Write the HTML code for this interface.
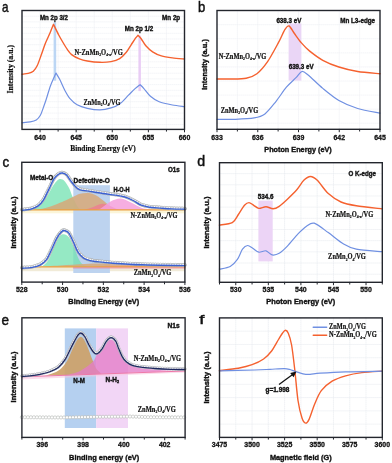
<!DOCTYPE html><html><head><meta charset="utf-8"><style>html,body{margin:0;padding:0;background:#fff;overflow:hidden}svg{display:block;will-change:transform}</style></head><body><svg width="392" height="463" viewBox="0 0 392 463">
<text x="1.90" y="12.20" font-size="13.90" font-family="Liberation Sans" fill="#111" stroke="#111" stroke-width="0.45" textLength="6.50" lengthAdjust="spacingAndGlyphs" >a</text>
<path d="M40.06 10.50 V129.40 M58.11 10.50 V129.40 M76.17 10.50 V129.40 M94.22 10.50 V129.40 M112.28 10.50 V129.40 M130.33 10.50 V129.40 M148.39 10.50 V129.40 M166.44 10.50 V129.40 M22.00 16.20 H184.50 M22.00 21.90 H184.50 M22.00 27.60 H184.50 M22.00 33.30 H184.50 M22.00 39.00 H184.50 M22.00 44.70 H184.50 M22.00 50.40 H184.50 M22.00 56.10 H184.50 M22.00 61.80 H184.50 M22.00 67.50 H184.50 M22.00 73.20 H184.50 M22.00 78.90 H184.50 M22.00 84.60 H184.50 M22.00 90.30 H184.50 M22.00 96.00 H184.50 M22.00 101.70 H184.50 M22.00 107.40 H184.50 M22.00 113.10 H184.50 M22.00 118.80 H184.50 M22.00 124.50 H184.50" stroke="#eceef3" stroke-width="0.60" fill="none" stroke-linejoin="round" stroke-linecap="round" stroke-dasharray="0.9 1.1" stroke-linecap="butt"/>
<rect x="53.60" y="22.30" width="2.60" height="58.40" fill="#bcd6f4" />
<rect x="138.40" y="35.50" width="2.50" height="55.60" fill="#e9cdf5" />
<path d="M22.00 74.20 C22.93 74.08 26.50 73.85 28.20 73.40 C29.89 72.95 31.93 72.39 33.30 71.20 C34.66 70.02 36.08 68.00 37.30 65.50 C38.52 62.99 40.17 57.88 41.40 54.50 C42.63 51.12 44.21 46.23 45.50 43.00 C46.79 39.77 48.80 35.80 50.00 33.00 C51.20 30.20 52.98 25.61 53.50 24.30 C54.27 25.86 57.18 31.97 58.60 34.70 C60.02 37.43 61.70 40.30 63.00 42.50 C64.30 44.70 66.01 47.59 67.30 49.40 C68.59 51.21 69.78 53.18 71.60 54.60 C73.41 56.02 77.05 57.94 79.40 58.90 C81.76 59.86 84.21 60.49 87.30 61.00 C90.39 61.51 96.44 62.21 100.00 62.30 C103.56 62.39 108.05 62.16 111.00 61.60 C113.95 61.05 117.41 60.00 119.70 58.60 C122.00 57.20 124.56 54.40 126.30 52.30 C128.04 50.20 129.92 46.72 131.30 44.60 C132.68 42.48 134.50 39.60 135.50 38.20 C136.50 36.80 137.62 35.73 138.00 35.30 C138.45 35.78 139.86 36.97 141.00 38.50 C142.14 40.03 143.86 43.51 145.60 45.50 C147.34 47.49 150.23 50.24 152.60 51.80 C154.97 53.36 158.43 54.98 161.40 55.90 C164.37 56.81 168.94 57.43 172.40 57.90 C175.87 58.37 182.69 58.84 184.50 59.00" stroke="#f5612f" stroke-width="1.40" fill="none" stroke-linejoin="round" stroke-linecap="round" />
<path d="M22.00 122.80 C23.23 122.66 28.05 122.34 30.20 121.90 C32.34 121.47 34.77 120.89 36.30 119.90 C37.83 118.91 39.32 117.22 40.40 115.30 C41.48 113.38 42.66 109.39 43.50 107.10 C44.34 104.80 44.94 103.24 46.00 100.00 C47.06 96.76 49.10 89.53 50.60 85.50 C52.10 81.47 55.19 74.96 56.00 73.10 C56.57 74.07 58.46 76.99 59.80 79.60 C61.13 82.21 63.37 87.64 64.90 90.50 C66.43 93.36 68.17 96.56 70.00 98.70 C71.83 100.84 74.50 103.36 77.10 104.80 C79.69 106.24 83.86 107.53 87.30 108.30 C90.73 109.06 96.44 109.96 100.00 109.90 C103.56 109.84 108.05 108.79 111.00 107.90 C113.95 107.02 117.08 105.91 119.70 104.00 C122.33 102.09 126.19 97.51 128.50 95.20 C130.81 92.89 133.36 90.19 135.10 88.60 C136.84 87.01 139.35 85.20 140.10 84.60 C140.67 85.20 142.36 86.84 143.90 88.60 C145.44 90.35 148.11 94.32 150.40 96.30 C152.69 98.28 155.90 100.49 159.20 101.80 C162.50 103.11 168.61 104.28 172.40 105.00 C176.19 105.72 182.69 106.36 184.50 106.60" stroke="#7090e2" stroke-width="1.20" fill="none" stroke-linejoin="round" stroke-linecap="round" />
<text x="40.00" y="19.60" font-size="6.80" font-family="Liberation Sans" font-weight="bold" fill="#111" stroke="#111" stroke-width="0.38" textLength="28.00" lengthAdjust="spacingAndGlyphs" >Mn 2p 3/2</text>
<text x="124.80" y="30.80" font-size="6.80" font-family="Liberation Sans" font-weight="bold" fill="#111" stroke="#111" stroke-width="0.38" textLength="28.40" lengthAdjust="spacingAndGlyphs" >Mn 2p 1/2</text>
<text x="162.10" y="20.10" font-size="6.80" font-family="Liberation Sans" font-weight="bold" fill="#111" stroke="#111" stroke-width="0.38" textLength="18.10" lengthAdjust="spacingAndGlyphs" >Mn 2p</text>
<text x="74.60" y="54.90" font-size="7.30" font-family="Liberation Serif" font-weight="bold" fill="#111" stroke="#111" stroke-width="0.20" textLength="48.20" lengthAdjust="spacingAndGlyphs" >N-ZnMn<tspan font-size="58%" dy="1.30">2</tspan><tspan dy="-1.3">O</tspan><tspan font-size="58%" dy="1.30">4-x</tspan><tspan dy="-1.3">/VG</tspan></text>
<text x="83.50" y="104.90" font-size="7.30" font-family="Liberation Serif" font-weight="bold" fill="#111" stroke="#111" stroke-width="0.20" textLength="37.00" lengthAdjust="spacingAndGlyphs" >ZnMn<tspan font-size="58%" dy="1.30">2</tspan><tspan dy="-1.3">O</tspan><tspan font-size="58%" dy="1.30">4</tspan><tspan dy="-1.3">/VG</tspan></text>
<path d="M40.06 129.40 V131.90 M76.17 129.40 V131.90 M112.28 129.40 V131.90 M148.39 129.40 V131.90 M184.50 129.40 V131.90 M58.11 129.40 V131.20 M94.22 129.40 V131.20 M130.33 129.40 V131.20 M166.44 129.40 V131.20" stroke="#23262d" stroke-width="1.00" fill="none" stroke-linejoin="round" stroke-linecap="round" stroke-linecap="butt"/>
<text x="40.06" y="139.60" font-size="6.95" text-anchor="middle" font-family="Liberation Sans" font-weight="bold" fill="#111" stroke="#111" stroke-width="0.28">640</text>
<text x="76.17" y="139.60" font-size="6.95" text-anchor="middle" font-family="Liberation Sans" font-weight="bold" fill="#111" stroke="#111" stroke-width="0.28">645</text>
<text x="112.28" y="139.60" font-size="6.95" text-anchor="middle" font-family="Liberation Sans" font-weight="bold" fill="#111" stroke="#111" stroke-width="0.28">650</text>
<text x="148.39" y="139.60" font-size="6.95" text-anchor="middle" font-family="Liberation Sans" font-weight="bold" fill="#111" stroke="#111" stroke-width="0.28">655</text>
<text x="184.50" y="139.60" font-size="6.95" text-anchor="middle" font-family="Liberation Sans" font-weight="bold" fill="#111" stroke="#111" stroke-width="0.28">660</text>
<text x="70.20" y="151.30" font-size="7.80" font-family="Liberation Serif" font-weight="bold" fill="#111" stroke="#111" stroke-width="0.20" textLength="65.50" lengthAdjust="spacingAndGlyphs" >Binding Energy (eV)</text>
<text transform="translate(12.50 93.60) rotate(-90)" x="0" y="0" font-size="7.80" font-family="Liberation Serif" font-weight="bold" fill="#111" stroke="#111" stroke-width="0.20" textLength="48.60" lengthAdjust="spacingAndGlyphs">Intensity (a.u.)</text>
<rect x="22.00" y="10.50" width="162.50" height="118.90" fill="none" stroke="#23262d" stroke-width="1.40"/>
<text x="198.00" y="11.80" font-size="13.90" font-family="Liberation Sans" fill="#111" stroke="#111" stroke-width="0.45" textLength="7.30" lengthAdjust="spacingAndGlyphs" >b</text>
<path d="M237.38 10.50 V129.30 M257.75 10.50 V129.30 M278.12 10.50 V129.30 M298.50 10.50 V129.30 M318.88 10.50 V129.30 M339.25 10.50 V129.30 M359.62 10.50 V129.30 M217.00 24.70 H380.00 M217.00 38.78 H380.00 M217.00 52.86 H380.00 M217.00 66.94 H380.00 M217.00 81.02 H380.00 M217.00 95.10 H380.00 M217.00 109.18 H380.00 M217.00 123.26 H380.00" stroke="#eceef3" stroke-width="0.60" fill="none" stroke-linejoin="round" stroke-linecap="round" stroke-dasharray="0.9 1.1" stroke-linecap="butt"/>
<rect x="288.60" y="23.40" width="12.80" height="57.20" fill="#ead6f6" />
<path d="M217.00 79.00 C218.97 79.00 225.72 79.12 230.10 79.00 C234.48 78.88 242.18 79.00 246.20 78.20 C250.22 77.41 253.69 76.19 256.90 73.70 C260.11 71.21 264.39 66.22 267.60 61.60 C270.81 56.98 275.69 47.73 278.30 42.90 C280.91 38.07 283.38 31.93 285.00 29.40 C286.62 26.86 287.69 25.38 289.10 26.00 C290.51 26.62 292.56 30.96 294.40 33.50 C296.24 36.03 299.15 40.29 301.40 42.90 C303.65 45.51 306.19 48.29 309.40 50.90 C312.61 53.51 318.38 57.88 322.80 60.30 C327.23 62.71 333.66 65.32 338.90 67.00 C344.13 68.68 351.53 70.48 357.70 71.50 C363.87 72.52 376.65 73.45 380.00 73.80" stroke="#f5612f" stroke-width="1.40" fill="none" stroke-linejoin="round" stroke-linecap="round" />
<path d="M217.00 119.30 C219.76 119.30 229.82 119.51 235.40 119.30 C240.98 119.09 249.78 118.71 254.20 117.90 C258.62 117.09 261.67 116.32 264.90 113.90 C268.12 111.48 272.47 105.80 275.70 101.80 C278.93 97.80 283.35 90.81 286.40 87.20 C289.44 83.59 293.68 80.06 296.00 77.70 C298.32 75.34 300.08 71.91 301.90 71.50 C303.71 71.09 304.97 72.47 308.10 75.00 C311.24 77.53 318.18 84.58 322.80 88.40 C327.42 92.23 333.66 97.48 338.90 100.50 C344.13 103.52 351.53 106.59 357.70 108.50 C363.87 110.41 376.65 112.50 380.00 113.20" stroke="#7090e2" stroke-width="1.20" fill="none" stroke-linejoin="round" stroke-linecap="round" />
<text x="276.40" y="22.60" font-size="6.80" font-family="Liberation Sans" font-weight="bold" fill="#111" stroke="#111" stroke-width="0.38" textLength="25.00" lengthAdjust="spacingAndGlyphs" >638.3 eV</text>
<text x="288.70" y="68.80" font-size="6.80" font-family="Liberation Sans" font-weight="bold" fill="#111" stroke="#111" stroke-width="0.38" textLength="24.90" lengthAdjust="spacingAndGlyphs" >639.3 eV</text>
<text x="340.20" y="22.50" font-size="6.80" font-family="Liberation Sans" font-weight="bold" fill="#111" stroke="#111" stroke-width="0.38" textLength="34.90" lengthAdjust="spacingAndGlyphs" >Mn L3-edge</text>
<text x="218.80" y="58.70" font-size="7.30" font-family="Liberation Serif" font-weight="bold" fill="#111" stroke="#111" stroke-width="0.20" textLength="47.50" lengthAdjust="spacingAndGlyphs" >N-ZnMn<tspan font-size="58%" dy="1.30">2</tspan><tspan dy="-1.3">O</tspan><tspan font-size="58%" dy="1.30">4-x</tspan><tspan dy="-1.3">/VG</tspan></text>
<text x="220.70" y="113.10" font-size="7.30" font-family="Liberation Serif" font-weight="bold" fill="#111" stroke="#111" stroke-width="0.20" textLength="37.50" lengthAdjust="spacingAndGlyphs" >ZnMn<tspan font-size="58%" dy="1.30">2</tspan><tspan dy="-1.3">O</tspan><tspan font-size="58%" dy="1.30">4</tspan><tspan dy="-1.3">/VG</tspan></text>
<path d="M217.00 129.30 V131.80 M257.75 129.30 V131.80 M298.50 129.30 V131.80 M339.25 129.30 V131.80 M380.00 129.30 V131.80 M237.38 129.30 V131.10 M278.12 129.30 V131.10 M318.88 129.30 V131.10 M359.62 129.30 V131.10" stroke="#23262d" stroke-width="1.00" fill="none" stroke-linejoin="round" stroke-linecap="round" stroke-linecap="butt"/>
<text x="217.00" y="139.60" font-size="6.95" text-anchor="middle" font-family="Liberation Sans" font-weight="bold" fill="#111" stroke="#111" stroke-width="0.28">633</text>
<text x="257.75" y="139.60" font-size="6.95" text-anchor="middle" font-family="Liberation Sans" font-weight="bold" fill="#111" stroke="#111" stroke-width="0.28">636</text>
<text x="298.50" y="139.60" font-size="6.95" text-anchor="middle" font-family="Liberation Sans" font-weight="bold" fill="#111" stroke="#111" stroke-width="0.28">639</text>
<text x="339.25" y="139.60" font-size="6.95" text-anchor="middle" font-family="Liberation Sans" font-weight="bold" fill="#111" stroke="#111" stroke-width="0.28">642</text>
<text x="380.00" y="139.60" font-size="6.95" text-anchor="middle" font-family="Liberation Sans" font-weight="bold" fill="#111" stroke="#111" stroke-width="0.28">645</text>
<text x="264.30" y="151.50" font-size="7.80" font-family="Liberation Sans" font-weight="bold" fill="#111" stroke="#111" stroke-width="0.38" textLength="67.40" lengthAdjust="spacingAndGlyphs" >Photon Energy (eV)</text>
<text transform="translate(207.30 89.80) rotate(-90)" x="0" y="0" font-size="7.80" font-family="Liberation Sans" font-weight="bold" fill="#111" stroke="#111" stroke-width="0.38" textLength="50.70" lengthAdjust="spacingAndGlyphs">Intensity (a.u.)</text>
<rect x="217.00" y="10.50" width="163.00" height="118.80" fill="none" stroke="#23262d" stroke-width="1.40"/>
<text x="2.40" y="166.60" font-size="13.90" font-family="Liberation Sans" fill="#111" stroke="#111" stroke-width="0.45" textLength="6.70" lengthAdjust="spacingAndGlyphs" >c</text>
<rect x="21.80" y="209.90" width="163.10" height="3.40" fill="#fbf5d8" />
<rect x="21.80" y="266.80" width="163.10" height="4.40" fill="#f1ebd8" />
<rect x="73.30" y="185.20" width="36.60" height="87.80" fill="#bdd3ef" />
<path d="M30.90 209.80 C32.40 209.08 37.22 207.70 39.90 205.50 C42.58 203.30 44.92 199.72 47.00 196.60 C49.08 193.48 50.77 189.42 52.40 186.80 C54.03 184.18 55.47 182.18 56.80 180.90 C58.13 179.62 59.05 179.02 60.40 179.10 C61.75 179.18 63.42 179.83 64.90 181.40 C66.38 182.97 67.97 185.82 69.30 188.50 C70.63 191.18 71.55 194.52 72.90 197.50 C74.25 200.48 76.07 204.32 77.40 206.40 C78.73 208.48 80.32 209.40 80.90 210.00 L80.90 209.90 L30.90 209.90 Z" fill="#72e2b0" fill-opacity="0.75" />
<path d="M36.30 210.00 C38.08 209.58 43.43 208.55 47.00 207.50 C50.57 206.45 54.53 204.92 57.70 203.70 C60.87 202.48 63.32 201.38 66.00 200.20 C68.68 199.02 71.47 197.67 73.80 196.60 C76.13 195.53 77.60 194.40 80.00 193.80 C82.40 193.20 85.48 192.73 88.20 193.00 C90.92 193.27 93.58 193.98 96.30 195.40 C99.02 196.82 102.12 199.63 104.50 201.50 C106.88 203.37 108.57 205.23 110.60 206.60 C112.63 207.97 115.13 209.13 116.70 209.70 C118.27 210.27 119.45 209.95 120.00 210.00 L120.00 209.90 L36.30 209.90 Z" fill="#d8a878" fill-opacity="0.85" />
<path d="M84.00 210.00 C85.33 209.58 88.93 208.53 92.00 207.50 C95.07 206.47 99.40 204.05 102.40 203.80 C105.40 203.55 107.40 205.05 110.00 206.00 C112.60 206.95 116.00 208.83 118.00 209.50 C120.00 210.17 121.33 209.92 122.00 210.00 L122.00 209.90 L84.00 209.90 Z" fill="#f07890" fill-opacity="0.75" />
<path d="M96.00 210.00 C96.73 209.78 97.97 210.12 100.40 208.70 C102.83 207.28 107.20 203.20 110.60 201.50 C114.00 199.80 117.40 198.32 120.80 198.50 C124.20 198.68 127.60 201.07 131.00 202.60 C134.40 204.13 138.13 206.58 141.20 207.70 C144.27 208.82 146.93 208.92 149.40 209.30 C151.87 209.68 154.90 209.88 156.00 210.00 L156.00 209.90 L96.00 209.90 Z" fill="#f4a0dc" fill-opacity="0.85" />
<path d="M21.9 209.9 H185.1" stroke="#eba040" stroke-width="1.10" fill="none" stroke-linejoin="round" stroke-linecap="round" />
<path d="M22.00 209.70 C23.48 209.50 28.22 209.23 30.90 208.50 C33.58 207.77 36.02 206.80 38.10 205.30 C40.18 203.80 41.62 202.25 43.40 199.50 C45.18 196.75 47.02 192.37 48.80 188.80 C50.58 185.23 52.47 180.62 54.10 178.10 C55.73 175.58 57.25 174.65 58.60 173.70 C59.95 172.75 60.87 172.27 62.20 172.40 C63.53 172.53 65.12 173.10 66.60 174.50 C68.08 175.90 69.60 178.85 71.10 180.80 C72.60 182.75 74.12 184.80 75.60 186.20 C77.08 187.60 77.57 188.43 80.00 189.20 C82.43 189.97 86.80 190.27 90.20 190.80 C93.60 191.33 97.20 191.90 100.40 192.40 C103.60 192.90 106.63 193.40 109.40 193.80 C112.17 194.20 114.40 194.37 117.00 194.80 C119.60 195.23 122.32 195.55 125.00 196.40 C127.68 197.25 130.40 198.53 133.10 199.90 C135.80 201.27 138.48 203.48 141.20 204.60 C143.92 205.72 146.27 206.12 149.40 206.60 C152.53 207.08 156.23 207.22 160.00 207.50 C163.77 207.78 167.82 208.12 172.00 208.30 C176.18 208.48 182.92 208.55 185.10 208.60" stroke="#b0b2b4" stroke-width="3.40" fill="none" stroke-linejoin="round" stroke-linecap="round" />
<path d="M22.00 209.70 C23.48 209.50 28.22 209.23 30.90 208.50 C33.58 207.77 36.02 206.80 38.10 205.30 C40.18 203.80 41.62 202.25 43.40 199.50 C45.18 196.75 47.02 192.37 48.80 188.80 C50.58 185.23 52.47 180.62 54.10 178.10 C55.73 175.58 57.25 174.65 58.60 173.70 C59.95 172.75 60.87 172.27 62.20 172.40 C63.53 172.53 65.12 173.10 66.60 174.50 C68.08 175.90 69.60 178.85 71.10 180.80 C72.60 182.75 74.12 184.80 75.60 186.20 C77.08 187.60 77.57 188.43 80.00 189.20 C82.43 189.97 86.80 190.27 90.20 190.80 C93.60 191.33 97.20 191.90 100.40 192.40 C103.60 192.90 106.63 193.40 109.40 193.80 C112.17 194.20 114.40 194.37 117.00 194.80 C119.60 195.23 122.32 195.55 125.00 196.40 C127.68 197.25 130.40 198.53 133.10 199.90 C135.80 201.27 138.48 203.48 141.20 204.60 C143.92 205.72 146.27 206.12 149.40 206.60 C152.53 207.08 156.23 207.22 160.00 207.50 C163.77 207.78 167.82 208.12 172.00 208.30 C176.18 208.48 182.92 208.55 185.10 208.60" stroke="#ffffff" stroke-width="1.70" fill="none" stroke-linejoin="round" stroke-linecap="round" />
<g fill="#fff" stroke="#a6a8aa" stroke-width="0.55"><circle cx="22.00" cy="209.70" r="1.45"/><circle cx="24.62" cy="209.35" r="1.45"/><circle cx="27.24" cy="208.99" r="1.45"/><circle cx="29.85" cy="208.64" r="1.45"/><circle cx="32.34" cy="207.86" r="1.45"/><circle cx="34.74" cy="206.79" r="1.45"/><circle cx="37.14" cy="205.73" r="1.45"/><circle cx="39.16" cy="204.14" r="1.45"/><circle cx="40.93" cy="202.21" r="1.45"/><circle cx="42.69" cy="200.27" r="1.45"/><circle cx="44.10" cy="198.10" r="1.45"/><circle cx="45.28" cy="195.78" r="1.45"/><circle cx="46.45" cy="193.45" r="1.45"/><circle cx="47.63" cy="191.13" r="1.45"/><circle cx="48.80" cy="188.80" r="1.45"/><circle cx="49.95" cy="186.47" r="1.45"/><circle cx="51.10" cy="184.15" r="1.45"/><circle cx="52.26" cy="181.82" r="1.45"/><circle cx="53.41" cy="179.50" r="1.45"/><circle cx="54.85" cy="177.37" r="1.45"/><circle cx="56.73" cy="175.53" r="1.45"/><circle cx="58.60" cy="173.70" r="1.45"/><circle cx="61.17" cy="172.77" r="1.45"/><circle cx="63.67" cy="173.10" r="1.45"/><circle cx="66.11" cy="174.27" r="1.45"/><circle cx="67.80" cy="176.18" r="1.45"/><circle cx="69.30" cy="178.28" r="1.45"/><circle cx="70.80" cy="180.38" r="1.45"/><circle cx="72.39" cy="182.34" r="1.45"/><circle cx="73.99" cy="184.27" r="1.45"/><circle cx="75.60" cy="186.20" r="1.45"/><circle cx="77.80" cy="187.70" r="1.45"/><circle cx="80.00" cy="189.20" r="1.45"/><circle cx="82.55" cy="189.60" r="1.45"/><circle cx="85.10" cy="190.00" r="1.45"/><circle cx="87.65" cy="190.40" r="1.45"/><circle cx="90.20" cy="190.80" r="1.45"/><circle cx="92.75" cy="191.20" r="1.45"/><circle cx="95.30" cy="191.60" r="1.45"/><circle cx="97.85" cy="192.00" r="1.45"/><circle cx="100.40" cy="192.40" r="1.45"/><circle cx="102.90" cy="192.79" r="1.45"/><circle cx="105.40" cy="193.18" r="1.45"/><circle cx="107.90" cy="193.57" r="1.45"/><circle cx="110.41" cy="193.93" r="1.45"/><circle cx="112.95" cy="194.27" r="1.45"/><circle cx="115.48" cy="194.60" r="1.45"/><circle cx="118.00" cy="195.00" r="1.45"/><circle cx="120.50" cy="195.50" r="1.45"/><circle cx="123.00" cy="196.00" r="1.45"/><circle cx="125.48" cy="196.61" r="1.45"/><circle cx="127.86" cy="197.64" r="1.45"/><circle cx="130.24" cy="198.66" r="1.45"/><circle cx="132.62" cy="199.69" r="1.45"/><circle cx="134.90" cy="200.94" r="1.45"/><circle cx="137.15" cy="202.25" r="1.45"/><circle cx="139.40" cy="203.56" r="1.45"/><circle cx="141.71" cy="204.72" r="1.45"/><circle cx="144.28" cy="205.35" r="1.45"/><circle cx="146.84" cy="205.97" r="1.45"/><circle cx="149.40" cy="206.60" r="1.45"/><circle cx="151.92" cy="206.81" r="1.45"/><circle cx="154.45" cy="207.03" r="1.45"/><circle cx="156.97" cy="207.24" r="1.45"/><circle cx="159.50" cy="207.46" r="1.45"/><circle cx="162.00" cy="207.63" r="1.45"/><circle cx="164.50" cy="207.80" r="1.45"/><circle cx="167.00" cy="207.97" r="1.45"/><circle cx="169.50" cy="208.13" r="1.45"/><circle cx="172.00" cy="208.30" r="1.45"/><circle cx="174.52" cy="208.36" r="1.45"/><circle cx="177.04" cy="208.42" r="1.45"/><circle cx="179.56" cy="208.47" r="1.45"/><circle cx="182.08" cy="208.53" r="1.45"/><circle cx="184.60" cy="208.59" r="1.45"/></g>
<path d="M22.00 210.30 C23.48 210.10 28.22 209.83 30.90 209.10 C33.58 208.37 36.02 207.40 38.10 205.90 C40.18 204.40 41.62 202.85 43.40 200.10 C45.18 197.35 47.02 192.97 48.80 189.40 C50.58 185.83 52.47 181.22 54.10 178.70 C55.73 176.18 57.25 175.25 58.60 174.30 C59.95 173.35 60.87 172.87 62.20 173.00 C63.53 173.13 65.12 173.70 66.60 175.10 C68.08 176.50 69.60 179.45 71.10 181.40 C72.60 183.35 74.12 185.40 75.60 186.80 C77.08 188.20 77.57 189.03 80.00 189.80 C82.43 190.57 86.80 190.87 90.20 191.40 C93.60 191.93 97.20 192.50 100.40 193.00 C103.60 193.50 106.63 194.00 109.40 194.40 C112.17 194.80 114.40 194.97 117.00 195.40 C119.60 195.83 122.32 196.15 125.00 197.00 C127.68 197.85 130.40 199.13 133.10 200.50 C135.80 201.87 138.48 204.08 141.20 205.20 C143.92 206.32 146.27 206.72 149.40 207.20 C152.53 207.68 156.23 207.82 160.00 208.10 C163.77 208.38 167.82 208.72 172.00 208.90 C176.18 209.08 182.92 209.15 185.10 209.20" stroke="#3a60d2" stroke-width="1.40" fill="none" stroke-linejoin="round" stroke-linecap="round" />
<path d="M38.00 266.80 C38.57 266.80 39.65 267.98 41.40 266.80 C43.15 265.62 46.28 263.27 48.50 259.70 C50.72 256.13 52.82 249.32 54.70 245.40 C56.58 241.48 58.28 238.07 59.80 236.20 C61.32 234.33 62.28 234.03 63.80 234.20 C65.32 234.37 67.20 235.00 68.90 237.20 C70.60 239.40 72.30 243.65 74.00 247.40 C75.70 251.15 77.57 256.80 79.10 259.70 C80.63 262.60 81.72 263.62 83.20 264.80 C84.68 265.98 87.20 266.47 88.00 266.80 L88.00 266.80 L38.00 266.80 Z" fill="#72e2b0" fill-opacity="0.75" />
<path d="M38.00 266.80 C41.67 266.58 52.17 265.97 60.00 265.50 C67.83 265.03 78.00 264.32 85.00 264.00 C92.00 263.68 94.50 263.50 102.00 263.60 C109.50 263.70 120.33 264.23 130.00 264.60 C139.67 264.97 150.82 265.48 160.00 265.80 C169.18 266.12 180.92 266.38 185.10 266.50 L185.10 266.80 L38.00 266.80 Z" fill="#d8a878" fill-opacity="0.85" />
<path d="M90.00 266.80 C93.33 266.63 101.67 266.03 110.00 265.80 C118.33 265.57 130.83 265.33 140.00 265.40 C149.17 265.47 157.48 265.97 165.00 266.20 C172.52 266.43 181.75 266.70 185.10 266.80 L185.10 266.80 L90.00 266.80 Z" fill="#f07890" fill-opacity="0.60" />
<path d="M21.9 266.9 H185.1" stroke="#eba040" stroke-width="1.10" fill="none" stroke-linejoin="round" stroke-linecap="round" />
<path d="M73.3 267.9 H185.1" stroke="#f07890" stroke-width="0.80" fill="none" stroke-linejoin="round" stroke-linecap="round" />
<path d="M22.00 267.70 C23.70 267.55 29.13 267.38 32.20 266.80 C35.27 266.22 38.02 265.48 40.40 264.20 C42.78 262.92 44.63 261.65 46.50 259.10 C48.37 256.55 49.90 252.47 51.60 248.90 C53.30 245.33 55.00 240.70 56.70 237.70 C58.40 234.70 60.43 232.17 61.80 230.90 C63.17 229.63 63.72 229.82 64.90 230.10 C66.08 230.38 67.47 230.67 68.90 232.60 C70.33 234.53 71.98 238.53 73.50 241.70 C75.02 244.87 76.25 248.93 78.00 251.60 C79.75 254.27 81.43 256.18 84.00 257.70 C86.57 259.22 90.40 260.07 93.40 260.70 C96.40 261.33 99.18 261.22 102.00 261.50 C104.82 261.78 103.63 261.95 110.30 262.40 C116.97 262.85 129.53 263.77 142.00 264.20 C154.47 264.63 177.92 264.87 185.10 265.00" stroke="#b0b2b4" stroke-width="3.40" fill="none" stroke-linejoin="round" stroke-linecap="round" />
<path d="M22.00 267.70 C23.70 267.55 29.13 267.38 32.20 266.80 C35.27 266.22 38.02 265.48 40.40 264.20 C42.78 262.92 44.63 261.65 46.50 259.10 C48.37 256.55 49.90 252.47 51.60 248.90 C53.30 245.33 55.00 240.70 56.70 237.70 C58.40 234.70 60.43 232.17 61.80 230.90 C63.17 229.63 63.72 229.82 64.90 230.10 C66.08 230.38 67.47 230.67 68.90 232.60 C70.33 234.53 71.98 238.53 73.50 241.70 C75.02 244.87 76.25 248.93 78.00 251.60 C79.75 254.27 81.43 256.18 84.00 257.70 C86.57 259.22 90.40 260.07 93.40 260.70 C96.40 261.33 99.18 261.22 102.00 261.50 C104.82 261.78 103.63 261.95 110.30 262.40 C116.97 262.85 129.53 263.77 142.00 264.20 C154.47 264.63 177.92 264.87 185.10 265.00" stroke="#ffffff" stroke-width="1.70" fill="none" stroke-linejoin="round" stroke-linecap="round" />
<g fill="#fff" stroke="#a6a8aa" stroke-width="0.55"><circle cx="22.00" cy="267.70" r="1.45"/><circle cx="24.55" cy="267.47" r="1.45"/><circle cx="27.10" cy="267.25" r="1.45"/><circle cx="29.65" cy="267.02" r="1.45"/><circle cx="32.20" cy="266.80" r="1.45"/><circle cx="34.61" cy="266.04" r="1.45"/><circle cx="37.02" cy="265.27" r="1.45"/><circle cx="39.44" cy="264.51" r="1.45"/><circle cx="41.62" cy="263.18" r="1.45"/><circle cx="43.65" cy="261.48" r="1.45"/><circle cx="45.69" cy="259.78" r="1.45"/><circle cx="47.20" cy="257.71" r="1.45"/><circle cx="48.35" cy="255.39" r="1.45"/><circle cx="49.51" cy="253.07" r="1.45"/><circle cx="50.67" cy="250.75" r="1.45"/><circle cx="51.81" cy="248.43" r="1.45"/><circle cx="52.88" cy="246.10" r="1.45"/><circle cx="53.94" cy="243.77" r="1.45"/><circle cx="55.00" cy="241.43" r="1.45"/><circle cx="56.06" cy="239.10" r="1.45"/><circle cx="57.30" cy="236.90" r="1.45"/><circle cx="58.80" cy="234.90" r="1.45"/><circle cx="60.30" cy="232.90" r="1.45"/><circle cx="61.80" cy="230.90" r="1.45"/><circle cx="64.38" cy="230.23" r="1.45"/><circle cx="66.68" cy="231.21" r="1.45"/><circle cx="68.90" cy="232.60" r="1.45"/><circle cx="70.05" cy="234.88" r="1.45"/><circle cx="71.20" cy="237.15" r="1.45"/><circle cx="72.35" cy="239.43" r="1.45"/><circle cx="73.50" cy="241.70" r="1.45"/><circle cx="74.57" cy="244.06" r="1.45"/><circle cx="75.64" cy="246.41" r="1.45"/><circle cx="76.71" cy="248.77" r="1.45"/><circle cx="77.79" cy="251.13" r="1.45"/><circle cx="79.41" cy="253.04" r="1.45"/><circle cx="81.18" cy="254.83" r="1.45"/><circle cx="82.94" cy="256.62" r="1.45"/><circle cx="84.99" cy="258.02" r="1.45"/><circle cx="87.46" cy="258.81" r="1.45"/><circle cx="89.94" cy="259.59" r="1.45"/><circle cx="92.41" cy="260.38" r="1.45"/><circle cx="94.92" cy="260.84" r="1.45"/><circle cx="97.45" cy="261.08" r="1.45"/><circle cx="99.98" cy="261.31" r="1.45"/><circle cx="102.52" cy="261.56" r="1.45"/><circle cx="105.11" cy="261.84" r="1.45"/><circle cx="107.71" cy="262.12" r="1.45"/><circle cx="110.30" cy="262.40" r="1.45"/><circle cx="112.82" cy="262.54" r="1.45"/><circle cx="115.33" cy="262.69" r="1.45"/><circle cx="117.85" cy="262.83" r="1.45"/><circle cx="120.36" cy="262.97" r="1.45"/><circle cx="122.88" cy="263.11" r="1.45"/><circle cx="125.40" cy="263.26" r="1.45"/><circle cx="127.91" cy="263.40" r="1.45"/><circle cx="130.43" cy="263.54" r="1.45"/><circle cx="132.94" cy="263.69" r="1.45"/><circle cx="135.46" cy="263.83" r="1.45"/><circle cx="137.97" cy="263.97" r="1.45"/><circle cx="140.49" cy="264.11" r="1.45"/><circle cx="143.00" cy="264.22" r="1.45"/><circle cx="145.51" cy="264.27" r="1.45"/><circle cx="148.01" cy="264.31" r="1.45"/><circle cx="150.52" cy="264.36" r="1.45"/><circle cx="153.03" cy="264.40" r="1.45"/><circle cx="155.53" cy="264.45" r="1.45"/><circle cx="158.04" cy="264.50" r="1.45"/><circle cx="160.54" cy="264.54" r="1.45"/><circle cx="163.05" cy="264.59" r="1.45"/><circle cx="165.55" cy="264.64" r="1.45"/><circle cx="168.06" cy="264.68" r="1.45"/><circle cx="170.57" cy="264.73" r="1.45"/><circle cx="173.07" cy="264.78" r="1.45"/><circle cx="175.58" cy="264.82" r="1.45"/><circle cx="178.08" cy="264.87" r="1.45"/><circle cx="180.59" cy="264.92" r="1.45"/><circle cx="183.10" cy="264.96" r="1.45"/></g>
<path d="M22.00 268.30 C23.70 268.15 29.13 267.98 32.20 267.40 C35.27 266.82 38.02 266.08 40.40 264.80 C42.78 263.52 44.63 262.25 46.50 259.70 C48.37 257.15 49.90 253.07 51.60 249.50 C53.30 245.93 55.00 241.30 56.70 238.30 C58.40 235.30 60.43 232.77 61.80 231.50 C63.17 230.23 63.72 230.42 64.90 230.70 C66.08 230.98 67.47 231.27 68.90 233.20 C70.33 235.13 71.98 239.13 73.50 242.30 C75.02 245.47 76.25 249.53 78.00 252.20 C79.75 254.87 81.43 256.78 84.00 258.30 C86.57 259.82 90.40 260.67 93.40 261.30 C96.40 261.93 99.18 261.82 102.00 262.10 C104.82 262.38 103.63 262.55 110.30 263.00 C116.97 263.45 129.53 264.37 142.00 264.80 C154.47 265.23 177.92 265.47 185.10 265.60" stroke="#3a60d2" stroke-width="1.40" fill="none" stroke-linejoin="round" stroke-linecap="round" />
<text x="30.00" y="179.80" font-size="6.80" font-family="Liberation Sans" font-weight="bold" fill="#111" stroke="#111" stroke-width="0.38" textLength="23.30" lengthAdjust="spacingAndGlyphs" >Metal-O</text>
<text x="73.60" y="182.70" font-size="6.80" font-family="Liberation Sans" font-weight="bold" fill="#111" stroke="#111" stroke-width="0.38" textLength="36.20" lengthAdjust="spacingAndGlyphs" >Defective-O</text>
<text x="113.40" y="191.90" font-size="6.80" font-family="Liberation Sans" font-weight="bold" fill="#111" stroke="#111" stroke-width="0.38" textLength="16.20" lengthAdjust="spacingAndGlyphs" >H-O-H</text>
<text x="168.00" y="172.20" font-size="6.80" font-family="Liberation Sans" font-weight="bold" fill="#111" stroke="#111" stroke-width="0.38" textLength="11.80" lengthAdjust="spacingAndGlyphs" >O1s</text>
<text x="130.40" y="218.00" font-size="7.30" font-family="Liberation Serif" font-weight="bold" fill="#111" stroke="#111" stroke-width="0.20" textLength="47.20" lengthAdjust="spacingAndGlyphs" >N-ZnMn<tspan font-size="58%" dy="1.30">2</tspan><tspan dy="-1.3">O</tspan><tspan font-size="58%" dy="1.30">4-x</tspan><tspan dy="-1.3">/VG</tspan></text>
<text x="133.70" y="275.30" font-size="7.30" font-family="Liberation Serif" font-weight="bold" fill="#111" stroke="#111" stroke-width="0.20" textLength="37.60" lengthAdjust="spacingAndGlyphs" >ZnMn<tspan font-size="58%" dy="1.30">2</tspan><tspan dy="-1.3">O</tspan><tspan font-size="58%" dy="1.30">4</tspan><tspan dy="-1.3">/VG</tspan></text>
<path d="M21.80 282.10 V284.60 M62.58 282.10 V284.60 M103.35 282.10 V284.60 M144.12 282.10 V284.60 M184.90 282.10 V284.60 M42.19 282.10 V283.90 M82.96 282.10 V283.90 M123.74 282.10 V283.90 M164.51 282.10 V283.90" stroke="#23262d" stroke-width="1.00" fill="none" stroke-linejoin="round" stroke-linecap="round" stroke-linecap="butt"/>
<text x="21.80" y="292.10" font-size="6.95" text-anchor="middle" font-family="Liberation Sans" font-weight="bold" fill="#111" stroke="#111" stroke-width="0.28">528</text>
<text x="62.58" y="292.10" font-size="6.95" text-anchor="middle" font-family="Liberation Sans" font-weight="bold" fill="#111" stroke="#111" stroke-width="0.28">530</text>
<text x="103.35" y="292.10" font-size="6.95" text-anchor="middle" font-family="Liberation Sans" font-weight="bold" fill="#111" stroke="#111" stroke-width="0.28">532</text>
<text x="144.12" y="292.10" font-size="6.95" text-anchor="middle" font-family="Liberation Sans" font-weight="bold" fill="#111" stroke="#111" stroke-width="0.28">534</text>
<text x="184.90" y="292.10" font-size="6.95" text-anchor="middle" font-family="Liberation Sans" font-weight="bold" fill="#111" stroke="#111" stroke-width="0.28">536</text>
<text x="68.30" y="303.70" font-size="7.80" font-family="Liberation Sans" font-weight="bold" fill="#111" stroke="#111" stroke-width="0.38" textLength="71.00" lengthAdjust="spacingAndGlyphs" >Binding Energy (eV)</text>
<text transform="translate(16.00 248.60) rotate(-90)" x="0" y="0" font-size="7.80" font-family="Liberation Sans" font-weight="bold" fill="#111" stroke="#111" stroke-width="0.38" textLength="52.20" lengthAdjust="spacingAndGlyphs">Intensity (a.u.)</text>
<rect x="21.80" y="162.30" width="163.10" height="119.80" fill="none" stroke="#23262d" stroke-width="1.40"/>
<text x="197.20" y="165.50" font-size="13.90" font-family="Liberation Sans" fill="#111" stroke="#111" stroke-width="0.45" textLength="7.90" lengthAdjust="spacingAndGlyphs" >d</text>
<path d="M235.78 162.70 V282.30 M252.06 162.70 V282.30 M268.34 162.70 V282.30 M284.62 162.70 V282.30 M300.90 162.70 V282.30 M317.18 162.70 V282.30 M333.46 162.70 V282.30 M349.74 162.70 V282.30 M366.02 162.70 V282.30 M219.50 173.60 H382.30 M219.50 184.78 H382.30 M219.50 195.96 H382.30 M219.50 207.14 H382.30 M219.50 218.32 H382.30 M219.50 229.50 H382.30 M219.50 240.68 H382.30 M219.50 251.86 H382.30 M219.50 263.04 H382.30 M219.50 274.22 H382.30" stroke="#e6e9ef" stroke-width="0.60" fill="none" stroke-linejoin="round" stroke-linecap="round" stroke-dasharray="0.9 1.1" stroke-linecap="butt"/>
<rect x="258.40" y="200.60" width="14.30" height="60.80" fill="#ecd4f6" />
<path d="M219.40 225.10 C221.34 224.74 229.45 224.29 232.30 222.70 C235.15 221.11 236.57 217.11 238.40 214.50 C240.23 211.89 242.91 207.09 244.50 205.30 C246.09 203.52 247.62 202.60 249.00 202.60 C250.38 202.60 252.23 204.43 253.70 205.30 C255.17 206.17 256.95 208.19 258.80 208.40 C260.65 208.61 263.86 206.64 266.00 206.70 C268.14 206.76 271.12 208.86 273.10 208.80 C275.08 208.74 277.06 207.74 279.20 206.30 C281.34 204.86 284.73 201.72 287.40 199.20 C290.07 196.68 294.54 192.34 297.00 189.50 C299.46 186.66 301.79 182.25 303.80 180.30 C305.81 178.35 308.38 176.50 310.40 176.50 C312.42 176.50 314.62 177.74 317.30 180.30 C319.99 182.87 324.75 190.34 328.30 193.60 C331.86 196.85 336.80 200.17 341.00 202.00 C345.20 203.83 350.11 204.77 356.30 205.80 C362.50 206.84 378.40 208.44 382.30 208.90" stroke="#f5612f" stroke-width="1.40" fill="none" stroke-linejoin="round" stroke-linecap="round" />
<path d="M219.40 269.20 C221.02 268.80 227.50 267.97 230.20 266.50 C232.90 265.03 235.56 262.00 237.40 259.40 C239.25 256.80 240.97 251.28 242.50 249.20 C244.03 247.11 246.07 245.65 247.60 245.50 C249.13 245.35 251.02 247.19 252.70 248.20 C254.38 249.20 256.81 251.81 258.80 252.20 C260.80 252.59 264.00 250.40 266.00 250.80 C268.00 251.21 270.12 254.53 272.10 254.90 C274.08 255.28 276.90 254.62 279.20 253.30 C281.50 251.98 284.58 249.01 287.40 246.10 C290.22 243.19 295.13 236.89 298.00 233.90 C300.87 230.91 304.07 227.80 306.50 226.20 C308.93 224.59 310.93 222.24 314.20 223.20 C317.47 224.16 323.89 229.48 328.30 232.60 C332.71 235.72 339.40 241.51 343.60 244.00 C347.80 246.49 350.50 248.04 356.30 249.20 C362.11 250.35 378.40 251.32 382.30 251.70" stroke="#7090e2" stroke-width="1.20" fill="none" stroke-linejoin="round" stroke-linecap="round" />
<text x="257.80" y="199.40" font-size="6.80" font-family="Liberation Sans" font-weight="bold" fill="#111" stroke="#111" stroke-width="0.38" textLength="15.70" lengthAdjust="spacingAndGlyphs" >534.6</text>
<text x="348.40" y="175.50" font-size="6.80" font-family="Liberation Sans" font-weight="bold" fill="#111" stroke="#111" stroke-width="0.38" textLength="27.50" lengthAdjust="spacingAndGlyphs" >O K-edge</text>
<text x="325.40" y="217.00" font-size="7.30" font-family="Liberation Serif" font-weight="bold" fill="#111" stroke="#111" stroke-width="0.20" textLength="47.80" lengthAdjust="spacingAndGlyphs" >N-ZnMn<tspan font-size="58%" dy="1.30">2</tspan><tspan dy="-1.3">O</tspan><tspan font-size="58%" dy="1.30">4-x</tspan><tspan dy="-1.3">/VG</tspan></text>
<text x="328.10" y="259.30" font-size="7.30" font-family="Liberation Serif" font-weight="bold" fill="#111" stroke="#111" stroke-width="0.20" textLength="37.80" lengthAdjust="spacingAndGlyphs" >ZnMn<tspan font-size="58%" dy="1.30">2</tspan><tspan dy="-1.3">O</tspan><tspan font-size="58%" dy="1.30">4</tspan><tspan dy="-1.3">/VG</tspan></text>
<path d="M235.78 282.30 V284.80 M268.34 282.30 V284.80 M300.90 282.30 V284.80 M333.46 282.30 V284.80 M366.02 282.30 V284.80 M219.50 282.30 V284.10 M252.06 282.30 V284.10 M284.62 282.30 V284.10 M317.18 282.30 V284.10 M349.74 282.30 V284.10 M382.30 282.30 V284.10" stroke="#23262d" stroke-width="1.00" fill="none" stroke-linejoin="round" stroke-linecap="round" stroke-linecap="butt"/>
<text x="235.78" y="292.10" font-size="6.95" text-anchor="middle" font-family="Liberation Sans" font-weight="bold" fill="#111" stroke="#111" stroke-width="0.28">530</text>
<text x="268.34" y="292.10" font-size="6.95" text-anchor="middle" font-family="Liberation Sans" font-weight="bold" fill="#111" stroke="#111" stroke-width="0.28">535</text>
<text x="300.90" y="292.10" font-size="6.95" text-anchor="middle" font-family="Liberation Sans" font-weight="bold" fill="#111" stroke="#111" stroke-width="0.28">540</text>
<text x="333.46" y="292.10" font-size="6.95" text-anchor="middle" font-family="Liberation Sans" font-weight="bold" fill="#111" stroke="#111" stroke-width="0.28">545</text>
<text x="366.02" y="292.10" font-size="6.95" text-anchor="middle" font-family="Liberation Sans" font-weight="bold" fill="#111" stroke="#111" stroke-width="0.28">550</text>
<text x="266.20" y="303.70" font-size="7.80" font-family="Liberation Sans" font-weight="bold" fill="#111" stroke="#111" stroke-width="0.38" textLength="69.10" lengthAdjust="spacingAndGlyphs" >Photon Energy (eV)</text>
<text transform="translate(208.80 248.60) rotate(-90)" x="0" y="0" font-size="7.80" font-family="Liberation Sans" font-weight="bold" fill="#111" stroke="#111" stroke-width="0.38" textLength="52.20" lengthAdjust="spacingAndGlyphs">Intensity (a.u.)</text>
<rect x="219.50" y="162.70" width="162.80" height="119.60" fill="none" stroke="#23262d" stroke-width="1.40"/>
<text x="1.50" y="324.60" font-size="13.90" font-family="Liberation Sans" fill="#111" stroke="#111" stroke-width="0.45" textLength="7.50" lengthAdjust="spacingAndGlyphs" >e</text>
<rect x="64.80" y="328.40" width="31.40" height="99.60" fill="#b5d0f0" />
<rect x="96.20" y="328.40" width="31.80" height="99.60" fill="#f2d6f6" />
<path d="M44.00 375.80 C45.33 375.42 49.33 374.55 52.00 373.50 C54.67 372.45 57.50 371.58 60.00 369.50 C62.50 367.42 64.83 364.58 67.00 361.00 C69.17 357.42 71.25 351.58 73.00 348.00 C74.75 344.42 76.20 341.37 77.50 339.50 C78.80 337.63 79.72 336.80 80.80 336.80 C81.88 336.80 82.80 337.63 84.00 339.50 C85.20 341.37 86.58 344.58 88.00 348.00 C89.42 351.42 91.13 356.57 92.50 360.00 C93.87 363.43 94.82 366.40 96.20 368.60 C97.58 370.80 100.03 372.43 100.80 373.20 L100.80 373.84 L44.00 375.83 Z" fill="#cda066" fill-opacity="0.90"/>
<path d="M70.00 374.20 C71.67 373.67 76.20 373.08 80.00 371.00 C83.80 368.92 89.97 364.53 92.80 361.70 C95.63 358.87 95.48 356.48 97.00 354.00 C98.52 351.52 100.40 348.88 101.90 346.80 C103.40 344.72 104.65 342.63 106.00 341.50 C107.35 340.37 108.67 340.00 110.00 340.00 C111.33 340.00 112.28 339.42 114.00 341.50 C115.72 343.58 118.30 349.25 120.30 352.50 C122.30 355.75 124.05 358.83 126.00 361.00 C127.95 363.17 129.17 364.25 132.00 365.50 C134.83 366.75 138.33 367.75 143.00 368.50 C147.67 369.25 154.67 369.58 160.00 370.00 C165.33 370.42 172.50 370.83 175.00 371.00 L175.00 371.25 L70.00 374.92 Z" fill="#e47cc8" fill-opacity="0.78"/>
<path d="M21.9 376.6 L185.1 370.9 L185.1 372.5 L21.9 379.5 Z" fill="#f6c6e0" fill-opacity="0.6"/>
<path d="M21.9 376.8 L185.1 371.0" stroke="#ee78a8" stroke-width="1.00" fill="none" stroke-linejoin="round" stroke-linecap="round" />
<path d="M22.00 375.90 C23.33 375.78 27.00 375.57 30.00 375.20 C33.00 374.83 36.80 374.33 40.00 373.70 C43.20 373.07 46.15 372.55 49.20 371.40 C52.25 370.25 55.63 368.90 58.30 366.80 C60.97 364.70 62.90 362.43 65.20 358.80 C67.50 355.17 70.00 349.02 72.10 345.00 C74.20 340.98 76.35 336.80 77.80 334.70 C79.25 332.60 79.65 332.20 80.80 332.40 C81.95 332.60 83.28 333.80 84.70 335.90 C86.12 338.00 87.77 342.33 89.30 345.00 C90.83 347.67 92.57 350.55 93.90 351.90 C95.23 353.25 95.97 353.67 97.30 353.10 C98.63 352.53 100.37 350.60 101.90 348.50 C103.43 346.40 104.97 342.42 106.50 340.50 C108.03 338.58 109.57 337.00 111.10 337.00 C112.63 337.00 114.52 338.87 115.70 340.50 C116.88 342.13 117.12 344.22 118.20 346.80 C119.28 349.38 120.85 353.62 122.20 356.00 C123.55 358.38 124.60 359.63 126.30 361.10 C128.00 362.57 129.67 363.85 132.40 364.80 C135.13 365.75 138.95 366.28 142.70 366.80 C146.45 367.32 150.15 367.58 154.90 367.90 C159.65 368.22 166.17 368.53 171.20 368.70 C176.23 368.87 182.78 368.87 185.10 368.90" stroke="#b4b6bc" stroke-width="3.00" fill="none" stroke-linejoin="round" stroke-linecap="round" />
<path d="M22.00 375.90 C23.33 375.78 27.00 375.57 30.00 375.20 C33.00 374.83 36.80 374.33 40.00 373.70 C43.20 373.07 46.15 372.55 49.20 371.40 C52.25 370.25 55.63 368.90 58.30 366.80 C60.97 364.70 62.90 362.43 65.20 358.80 C67.50 355.17 70.00 349.02 72.10 345.00 C74.20 340.98 76.35 336.80 77.80 334.70 C79.25 332.60 79.65 332.20 80.80 332.40 C81.95 332.60 83.28 333.80 84.70 335.90 C86.12 338.00 87.77 342.33 89.30 345.00 C90.83 347.67 92.57 350.55 93.90 351.90 C95.23 353.25 95.97 353.67 97.30 353.10 C98.63 352.53 100.37 350.60 101.90 348.50 C103.43 346.40 104.97 342.42 106.50 340.50 C108.03 338.58 109.57 337.00 111.10 337.00 C112.63 337.00 114.52 338.87 115.70 340.50 C116.88 342.13 117.12 344.22 118.20 346.80 C119.28 349.38 120.85 353.62 122.20 356.00 C123.55 358.38 124.60 359.63 126.30 361.10 C128.00 362.57 129.67 363.85 132.40 364.80 C135.13 365.75 138.95 366.28 142.70 366.80 C146.45 367.32 150.15 367.58 154.90 367.90 C159.65 368.22 166.17 368.53 171.20 368.70 C176.23 368.87 182.78 368.87 185.10 368.90" stroke="#ffffff" stroke-width="1.50" fill="none" stroke-linejoin="round" stroke-linecap="round" />
<g fill="#fff" stroke="#a8aaae" stroke-width="0.50"><circle cx="22.00" cy="375.90" r="1.35"/><circle cx="24.50" cy="375.68" r="1.35"/><circle cx="27.00" cy="375.46" r="1.35"/><circle cx="29.50" cy="375.24" r="1.35"/><circle cx="32.00" cy="374.90" r="1.35"/><circle cx="34.50" cy="374.52" r="1.35"/><circle cx="37.00" cy="374.15" r="1.35"/><circle cx="39.50" cy="373.77" r="1.35"/><circle cx="42.04" cy="373.19" r="1.35"/><circle cx="44.60" cy="372.55" r="1.35"/><circle cx="47.16" cy="371.91" r="1.35"/><circle cx="49.66" cy="371.17" r="1.35"/><circle cx="51.93" cy="370.02" r="1.35"/><circle cx="54.20" cy="368.87" r="1.35"/><circle cx="56.48" cy="367.72" r="1.35"/><circle cx="58.63" cy="366.42" r="1.35"/><circle cx="60.27" cy="364.51" r="1.35"/><circle cx="61.91" cy="362.61" r="1.35"/><circle cx="63.56" cy="360.70" r="1.35"/><circle cx="65.20" cy="358.80" r="1.35"/><circle cx="66.35" cy="356.50" r="1.35"/><circle cx="67.50" cy="354.20" r="1.35"/><circle cx="68.65" cy="351.90" r="1.35"/><circle cx="69.80" cy="349.60" r="1.35"/><circle cx="70.95" cy="347.30" r="1.35"/><circle cx="72.10" cy="345.00" r="1.35"/><circle cx="73.34" cy="342.76" r="1.35"/><circle cx="74.58" cy="340.52" r="1.35"/><circle cx="75.82" cy="338.28" r="1.35"/><circle cx="77.06" cy="336.04" r="1.35"/><circle cx="78.66" cy="334.04" r="1.35"/><circle cx="80.80" cy="332.40" r="1.35"/><circle cx="82.75" cy="334.15" r="1.35"/><circle cx="84.70" cy="335.90" r="1.35"/><circle cx="85.85" cy="338.17" r="1.35"/><circle cx="87.00" cy="340.45" r="1.35"/><circle cx="88.15" cy="342.73" r="1.35"/><circle cx="89.30" cy="345.00" r="1.35"/><circle cx="90.74" cy="347.16" r="1.35"/><circle cx="92.17" cy="349.31" r="1.35"/><circle cx="93.61" cy="351.47" r="1.35"/><circle cx="95.84" cy="352.59" r="1.35"/><circle cx="98.01" cy="352.39" r="1.35"/><circle cx="99.78" cy="350.62" r="1.35"/><circle cx="101.55" cy="348.85" r="1.35"/><circle cx="102.92" cy="346.72" r="1.35"/><circle cx="104.20" cy="344.50" r="1.35"/><circle cx="105.48" cy="342.28" r="1.35"/><circle cx="106.92" cy="340.18" r="1.35"/><circle cx="109.01" cy="338.59" r="1.35"/><circle cx="111.10" cy="337.00" r="1.35"/><circle cx="113.19" cy="338.59" r="1.35"/><circle cx="115.28" cy="340.18" r="1.35"/><circle cx="116.47" cy="342.44" r="1.35"/><circle cx="117.43" cy="344.86" r="1.35"/><circle cx="118.40" cy="347.26" r="1.35"/><circle cx="119.40" cy="349.56" r="1.35"/><circle cx="120.40" cy="351.86" r="1.35"/><circle cx="121.40" cy="354.16" r="1.35"/><circle cx="122.52" cy="356.39" r="1.35"/><circle cx="124.09" cy="358.35" r="1.35"/><circle cx="125.67" cy="360.32" r="1.35"/><circle cx="127.61" cy="361.89" r="1.35"/><circle cx="129.79" cy="363.21" r="1.35"/><circle cx="131.96" cy="364.54" r="1.35"/><circle cx="134.46" cy="365.20" r="1.35"/><circle cx="137.03" cy="365.70" r="1.35"/><circle cx="139.61" cy="366.20" r="1.35"/><circle cx="142.19" cy="366.70" r="1.35"/><circle cx="144.73" cy="366.98" r="1.35"/><circle cx="147.28" cy="367.21" r="1.35"/><circle cx="149.82" cy="367.44" r="1.35"/><circle cx="152.36" cy="367.67" r="1.35"/><circle cx="154.90" cy="367.90" r="1.35"/><circle cx="157.45" cy="368.02" r="1.35"/><circle cx="159.99" cy="368.15" r="1.35"/><circle cx="162.54" cy="368.27" r="1.35"/><circle cx="165.09" cy="368.40" r="1.35"/><circle cx="167.63" cy="368.52" r="1.35"/><circle cx="170.18" cy="368.65" r="1.35"/><circle cx="172.74" cy="368.72" r="1.35"/><circle cx="175.32" cy="368.76" r="1.35"/><circle cx="177.89" cy="368.80" r="1.35"/><circle cx="180.47" cy="368.83" r="1.35"/><circle cx="183.04" cy="368.87" r="1.35"/></g>
<path d="M22.00 376.50 C23.33 376.38 27.00 376.17 30.00 375.80 C33.00 375.43 36.80 374.93 40.00 374.30 C43.20 373.67 46.15 373.15 49.20 372.00 C52.25 370.85 55.63 369.50 58.30 367.40 C60.97 365.30 62.90 363.03 65.20 359.40 C67.50 355.77 70.00 349.62 72.10 345.60 C74.20 341.58 76.35 337.40 77.80 335.30 C79.25 333.20 79.65 332.80 80.80 333.00 C81.95 333.20 83.28 334.40 84.70 336.50 C86.12 338.60 87.77 342.93 89.30 345.60 C90.83 348.27 92.57 351.15 93.90 352.50 C95.23 353.85 95.97 354.27 97.30 353.70 C98.63 353.13 100.37 351.20 101.90 349.10 C103.43 347.00 104.97 343.02 106.50 341.10 C108.03 339.18 109.57 337.60 111.10 337.60 C112.63 337.60 114.52 339.47 115.70 341.10 C116.88 342.73 117.12 344.82 118.20 347.40 C119.28 349.98 120.85 354.22 122.20 356.60 C123.55 358.98 124.60 360.23 126.30 361.70 C128.00 363.17 129.67 364.45 132.40 365.40 C135.13 366.35 138.95 366.88 142.70 367.40 C146.45 367.92 150.15 368.18 154.90 368.50 C159.65 368.82 166.17 369.13 171.20 369.30 C176.23 369.47 182.78 369.47 185.10 369.50" stroke="#1e2860" stroke-width="1.30" fill="none" stroke-linejoin="round" stroke-linecap="round" />
<g fill="#fff" stroke="#b6b8b6" stroke-width="0.60"><circle cx="21.90" cy="417.20" r="1.60"/><circle cx="24.91" cy="417.22" r="1.60"/><circle cx="27.92" cy="417.25" r="1.60"/><circle cx="30.92" cy="417.27" r="1.60"/><circle cx="33.93" cy="417.29" r="1.60"/><circle cx="36.94" cy="417.32" r="1.60"/><circle cx="39.95" cy="417.34" r="1.60"/><circle cx="42.96" cy="417.37" r="1.60"/><circle cx="45.96" cy="417.39" r="1.60"/><circle cx="48.97" cy="417.41" r="1.60"/><circle cx="51.98" cy="417.44" r="1.60"/><circle cx="54.99" cy="417.46" r="1.60"/><circle cx="57.99" cy="417.48" r="1.60"/><circle cx="61.00" cy="417.48" r="1.60"/><circle cx="64.00" cy="417.43" r="1.60"/><circle cx="67.00" cy="417.38" r="1.60"/><circle cx="70.00" cy="417.32" r="1.60"/><circle cx="73.00" cy="417.27" r="1.60"/><circle cx="76.00" cy="417.22" r="1.60"/><circle cx="79.00" cy="417.17" r="1.60"/><circle cx="82.00" cy="417.12" r="1.60"/><circle cx="85.00" cy="417.06" r="1.60"/><circle cx="88.00" cy="417.01" r="1.60"/><circle cx="91.00" cy="416.96" r="1.60"/><circle cx="94.00" cy="416.91" r="1.60"/><circle cx="97.00" cy="416.85" r="1.60"/><circle cx="100.00" cy="416.80" r="1.60"/><circle cx="103.00" cy="416.77" r="1.60"/><circle cx="106.00" cy="416.74" r="1.60"/><circle cx="109.00" cy="416.71" r="1.60"/><circle cx="112.00" cy="416.68" r="1.60"/><circle cx="115.00" cy="416.65" r="1.60"/><circle cx="118.00" cy="416.62" r="1.60"/><circle cx="121.00" cy="416.59" r="1.60"/><circle cx="124.00" cy="416.56" r="1.60"/><circle cx="127.00" cy="416.53" r="1.60"/><circle cx="130.00" cy="416.50" r="1.60"/><circle cx="133.00" cy="416.61" r="1.60"/><circle cx="136.00" cy="416.71" r="1.60"/><circle cx="139.00" cy="416.81" r="1.60"/><circle cx="142.00" cy="416.92" r="1.60"/><circle cx="145.00" cy="417.02" r="1.60"/><circle cx="148.00" cy="417.13" r="1.60"/><circle cx="151.00" cy="417.21" r="1.60"/><circle cx="154.01" cy="417.22" r="1.60"/><circle cx="157.02" cy="417.24" r="1.60"/><circle cx="160.03" cy="417.26" r="1.60"/><circle cx="163.04" cy="417.27" r="1.60"/><circle cx="166.05" cy="417.29" r="1.60"/><circle cx="169.05" cy="417.31" r="1.60"/><circle cx="172.06" cy="417.33" r="1.60"/><circle cx="175.07" cy="417.34" r="1.60"/><circle cx="178.08" cy="417.36" r="1.60"/><circle cx="181.09" cy="417.38" r="1.60"/><circle cx="184.10" cy="417.39" r="1.60"/></g>
<text x="73.30" y="382.60" font-size="6.80" font-family="Liberation Sans" font-weight="bold" fill="#111" stroke="#111" stroke-width="0.38" textLength="11.70" lengthAdjust="spacingAndGlyphs" >N-M</text>
<text x="105.50" y="381.80" font-size="6.80" font-family="Liberation Sans" font-weight="bold" fill="#111" stroke="#111" stroke-width="0.38" textLength="13.50" lengthAdjust="spacingAndGlyphs" >N-H<tspan font-size="58%" dy="1.00">2</tspan></text>
<text x="167.60" y="327.60" font-size="6.80" font-family="Liberation Sans" font-weight="bold" fill="#111" stroke="#111" stroke-width="0.38" textLength="12.10" lengthAdjust="spacingAndGlyphs" >N1s</text>
<text x="133.80" y="360.70" font-size="7.30" font-family="Liberation Serif" font-weight="bold" fill="#111" stroke="#111" stroke-width="0.20" textLength="47.30" lengthAdjust="spacingAndGlyphs" >N-ZnMn<tspan font-size="58%" dy="1.30">2</tspan><tspan dy="-1.3">O</tspan><tspan font-size="58%" dy="1.30">4-x</tspan><tspan dy="-1.3">/VG</tspan></text>
<text x="137.80" y="412.10" font-size="7.30" font-family="Liberation Serif" font-weight="bold" fill="#111" stroke="#111" stroke-width="0.20" textLength="37.90" lengthAdjust="spacingAndGlyphs" >ZnMn<tspan font-size="58%" dy="1.30">2</tspan><tspan dy="-1.3">O</tspan><tspan font-size="58%" dy="1.30">4</tspan><tspan dy="-1.3">/VG</tspan></text>
<path d="M42.30 437.40 V439.90 M83.10 437.40 V439.90 M123.90 437.40 V439.90 M164.70 437.40 V439.90 M21.90 437.40 V439.20 M62.70 437.40 V439.20 M103.50 437.40 V439.20 M144.30 437.40 V439.20 M185.10 437.40 V439.20" stroke="#23262d" stroke-width="1.00" fill="none" stroke-linejoin="round" stroke-linecap="round" stroke-linecap="butt"/>
<text x="42.30" y="447.20" font-size="6.95" text-anchor="middle" font-family="Liberation Sans" font-weight="bold" fill="#111" stroke="#111" stroke-width="0.28">396</text>
<text x="83.10" y="447.20" font-size="6.95" text-anchor="middle" font-family="Liberation Sans" font-weight="bold" fill="#111" stroke="#111" stroke-width="0.28">398</text>
<text x="123.90" y="447.20" font-size="6.95" text-anchor="middle" font-family="Liberation Sans" font-weight="bold" fill="#111" stroke="#111" stroke-width="0.28">400</text>
<text x="164.70" y="447.20" font-size="6.95" text-anchor="middle" font-family="Liberation Sans" font-weight="bold" fill="#111" stroke="#111" stroke-width="0.28">402</text>
<text x="69.10" y="459.50" font-size="7.80" font-family="Liberation Sans" font-weight="bold" fill="#111" stroke="#111" stroke-width="0.38" textLength="70.20" lengthAdjust="spacingAndGlyphs" >Binding energy (eV)</text>
<text transform="translate(16.00 402.40) rotate(-90)" x="0" y="0" font-size="7.80" font-family="Liberation Sans" font-weight="bold" fill="#111" stroke="#111" stroke-width="0.38" textLength="51.00" lengthAdjust="spacingAndGlyphs">Intensity (a.u.)</text>
<rect x="21.90" y="317.80" width="163.20" height="119.60" fill="none" stroke="#23262d" stroke-width="1.40"/>
<text x="199.30" y="323.90" font-size="13.50" font-family="Liberation Sans" fill="#111" stroke="#111" stroke-width="0.45" textLength="5.10" lengthAdjust="spacingAndGlyphs" >f</text>
<path d="M235.78 317.90 V437.40 M252.06 317.90 V437.40 M268.34 317.90 V437.40 M284.62 317.90 V437.40 M300.90 317.90 V437.40 M317.18 317.90 V437.40 M333.46 317.90 V437.40 M349.74 317.90 V437.40 M366.02 317.90 V437.40 M219.50 331.18 H382.30 M219.50 344.46 H382.30 M219.50 357.74 H382.30 M219.50 371.02 H382.30 M219.50 384.30 H382.30 M219.50 397.58 H382.30 M219.50 410.86 H382.30 M219.50 424.14 H382.30" stroke="#e6e9ef" stroke-width="0.60" fill="none" stroke-linejoin="round" stroke-linecap="round" stroke-dasharray="0.9 1.1" stroke-linecap="butt"/>
<path d="M219.40 370.60 C222.24 370.24 233.40 369.08 238.30 368.20 C243.21 367.31 248.31 366.08 252.10 364.70 C255.89 363.32 260.68 361.06 263.60 359.00 C266.53 356.94 269.37 353.93 271.60 351.00 C273.84 348.07 276.85 342.20 278.50 339.50 C280.15 336.80 281.57 334.38 282.60 333.00 C283.63 331.62 284.54 330.27 285.40 330.30 C286.25 330.33 287.37 331.00 288.30 333.20 C289.23 335.40 290.62 339.48 291.60 345.00 C292.58 350.52 293.84 361.68 294.80 370.00 C295.76 378.32 296.92 393.30 298.00 400.50 C299.08 407.70 300.86 414.61 302.00 418.00 C303.14 421.39 304.52 422.94 305.60 423.10 C306.68 423.27 307.85 421.94 309.20 419.10 C310.55 416.27 312.79 408.46 314.60 404.20 C316.42 399.94 318.68 394.15 321.30 390.70 C323.93 387.25 328.46 383.44 332.10 381.20 C335.75 378.96 341.13 377.09 345.60 375.80 C350.07 374.51 356.39 373.29 361.90 372.60 C367.40 371.91 379.24 371.41 382.30 371.20" stroke="#f5612f" stroke-width="1.40" fill="none" stroke-linejoin="round" stroke-linecap="round" />
<path d="M219.40 370.90 C224.65 370.76 246.81 370.24 254.40 370.00 C261.99 369.76 265.53 369.51 270.00 369.30 C274.47 369.09 281.20 368.57 284.20 368.60 C287.20 368.63 288.27 369.05 290.00 369.50 C291.73 369.95 293.75 370.96 295.70 371.60 C297.65 372.25 300.86 373.40 303.00 373.80 C305.14 374.20 307.45 374.39 310.00 374.30 C312.55 374.21 314.66 373.57 320.00 373.20 C325.34 372.82 336.25 372.10 345.60 371.80 C354.95 371.50 376.80 371.29 382.30 371.20" stroke="#7090e2" stroke-width="1.20" fill="none" stroke-linejoin="round" stroke-linecap="round" />
<path d="M279 384.5 L293 374.3" stroke="#111" stroke-width="1.3"/>
<path d="M296.4 371.5 L290.2 373.0 L293.6 377.3 Z" fill="#111"/>
<text x="265.60" y="391.50" font-size="6.80" font-family="Liberation Sans" font-weight="bold" fill="#111" stroke="#111" stroke-width="0.38" textLength="23.80" lengthAdjust="spacingAndGlyphs" >g=1.998</text>
<path d="M313.2 327.2 H326.7" stroke="#7090e2" stroke-width="1.40" fill="none" stroke-linejoin="round" stroke-linecap="round" />
<path d="M313.2 335.3 H326.7" stroke="#f5612f" stroke-width="1.40" fill="none" stroke-linejoin="round" stroke-linecap="round" />
<text x="329.10" y="329.30" font-size="7.30" font-family="Liberation Serif" font-weight="bold" fill="#111" stroke="#111" stroke-width="0.20" textLength="36.70" lengthAdjust="spacingAndGlyphs" >ZnMn<tspan font-size="58%" dy="1.30">2</tspan><tspan dy="-1.3">O</tspan><tspan font-size="58%" dy="1.30">4</tspan><tspan dy="-1.3">/VG</tspan></text>
<text x="329.10" y="337.30" font-size="7.30" font-family="Liberation Serif" font-weight="bold" fill="#111" stroke="#111" stroke-width="0.20" textLength="47.70" lengthAdjust="spacingAndGlyphs" >N-ZnMn<tspan font-size="58%" dy="1.30">2</tspan><tspan dy="-1.3">O</tspan><tspan font-size="58%" dy="1.30">4-x</tspan><tspan dy="-1.3">/VG</tspan></text>
<path d="M219.50 437.40 V439.90 M252.06 437.40 V439.90 M284.62 437.40 V439.90 M317.18 437.40 V439.90 M349.74 437.40 V439.90 M382.30 437.40 V439.90 M235.78 437.40 V439.20 M268.34 437.40 V439.20 M300.90 437.40 V439.20 M333.46 437.40 V439.20 M366.02 437.40 V439.20" stroke="#23262d" stroke-width="1.00" fill="none" stroke-linejoin="round" stroke-linecap="round" stroke-linecap="butt"/>
<text x="219.50" y="447.20" font-size="6.95" text-anchor="middle" font-family="Liberation Sans" font-weight="bold" fill="#111" stroke="#111" stroke-width="0.28">3475</text>
<text x="252.06" y="447.20" font-size="6.95" text-anchor="middle" font-family="Liberation Sans" font-weight="bold" fill="#111" stroke="#111" stroke-width="0.28">3500</text>
<text x="284.62" y="447.20" font-size="6.95" text-anchor="middle" font-family="Liberation Sans" font-weight="bold" fill="#111" stroke="#111" stroke-width="0.28">3525</text>
<text x="317.18" y="447.20" font-size="6.95" text-anchor="middle" font-family="Liberation Sans" font-weight="bold" fill="#111" stroke="#111" stroke-width="0.28">3550</text>
<text x="349.74" y="447.20" font-size="6.95" text-anchor="middle" font-family="Liberation Sans" font-weight="bold" fill="#111" stroke="#111" stroke-width="0.28">3575</text>
<text x="382.30" y="447.20" font-size="6.95" text-anchor="middle" font-family="Liberation Sans" font-weight="bold" fill="#111" stroke="#111" stroke-width="0.28">3600</text>
<text x="269.90" y="459.50" font-size="7.80" font-family="Liberation Sans" font-weight="bold" fill="#111" stroke="#111" stroke-width="0.38" textLength="61.80" lengthAdjust="spacingAndGlyphs" >Magnetic field (G)</text>
<text transform="translate(208.80 403.60) rotate(-90)" x="0" y="0" font-size="7.80" font-family="Liberation Sans" font-weight="bold" fill="#111" stroke="#111" stroke-width="0.38" textLength="52.20" lengthAdjust="spacingAndGlyphs">Intensity (a.u.)</text>
<rect x="219.50" y="317.90" width="162.80" height="119.50" fill="none" stroke="#23262d" stroke-width="1.40"/>
</svg></body></html>
